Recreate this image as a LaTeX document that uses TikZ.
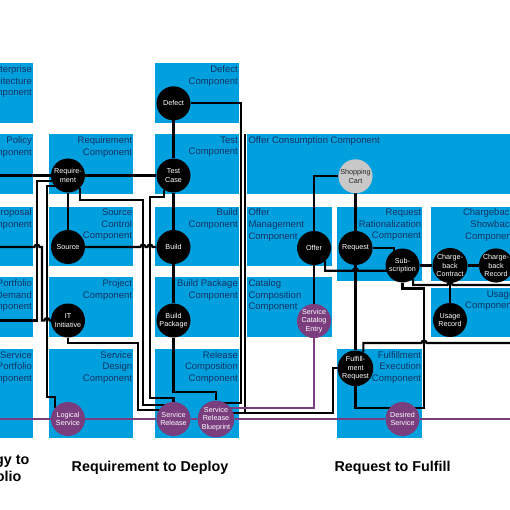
\documentclass[tikz,border=0pt]{standalone}
\usepackage{fontspec}
\setmainfont{Liberation Sans}
\usepackage{tikz}
\usepackage{xcolor}
\definecolor{compBlue}{RGB}{0,160,222}
\definecolor{compNavy}{RGB}{18,52,100}
\definecolor{servicePurple}{RGB}{122,62,126}
\definecolor{cartGray}{RGB}{200,200,200}
\pgfdeclarelayer{boxes}
\pgfdeclarelayer{links}
\pgfsetlayers{boxes,links,main}
\tikzstyle{component}=[rectangle, fill=compBlue, inner sep=0pt, outer sep=0pt, minimum width=84pt, minimum height=59.5pt, anchor=north west]
\tikzstyle{componentText}=[font=\fontsize{9.5}{11.7}\selectfont, text=compNavy, inner xsep=1pt, inner ysep=2pt]
\tikzstyle{dataObject}=[circle, fill=black, text=white, minimum size=34pt, inner sep=0pt, align=center, font=\fontsize{7.2}{8.4}\selectfont]
\tikzstyle{serviceObject}=[dataObject, fill=servicePurple]
\tikzstyle{dataFlow}=[line width=2.1pt]
\tikzstyle{serviceFlow}=[line width=2.5pt, draw=servicePurple]
\tikzstyle{streamTitle}=[font=\fontsize{14.3}{16.7}\selectfont\bfseries, align=center, anchor=base]

\begin{document}
\begin{tikzpicture}[x=1pt, y=-1pt]
  \useasboundingbox (0,0) rectangle (510,510);

  % Components
  \begin{pgfonlayer}{boxes}
  \node (eacomp) at (-51,63.3) [component] {};
  \node (eacomptext) at (eacomp.north east) [componentText, anchor=north east, align=right] {Enterprise\\Architecture\\Component};
  \node (policycomp) at (-51,134.3) [component] {};
  \node (policycomptext) at (policycomp.north east) [componentText, anchor=north east, align=right] {Policy\\Component};
  \node (proposalcomp) at (-51,206.7) [component] {};
  \node (proposalcomptext) at (proposalcomp.north east) [componentText, anchor=north east, align=right] {Proposal\\Component};
  \node (portfoliocomp) at (-51,277.3) [component] {};
  \node (portfoliocomptext) at (portfoliocomp.north east) [componentText, anchor=north east, align=right] {Portfolio\\Demand\\Component};
  \node (svcportfoliocomp) at (-51,349) [component, minimum height=89.3pt] {};
  \node (svcportfoliocomptext) at (svcportfoliocomp.north east) [componentText, anchor=north east, align=right] {Service\\Portfolio\\Component};

  \node (reqcomp) at (49.3,134.3) [component] {};
  \node (reqcomptext) at (reqcomp.north east) [componentText, anchor=north east, align=right] {Requirement\\Component};
  \node (sourcecomp) at (49.3,206.7) [component] {};
  \node (sourcecomptext) at (sourcecomp.north east) [componentText, anchor=north east, align=right] {Source\\Control\\Component};
  \node (projectcomp) at (49.3,277.3) [component] {};
  \node (projectcomptext) at (projectcomp.north east) [componentText, anchor=north east, align=right] {Project\\Component};
  \node (designcomp) at (49.3,349) [component, minimum height=89.3pt] {};
  \node (designcomptext) at (designcomp.north east) [componentText, anchor=north east, align=right] {Service\\Design\\Component};

  \node (defectcomp) at (155,63.3) [component] {};
  \node (defectcomptext) at (defectcomp.north east) [componentText, anchor=north east, align=right] {Defect\\Component};
  \node (testcomp) at (155,134.3) [component] {};
  \node (testcomptext) at (testcomp.north east) [componentText, anchor=north east, align=right] {Test\\Component};
  \node (buildcomp) at (155,206.7) [component] {};
  \node (buildcomptext) at (buildcomp.north east) [componentText, anchor=north east, align=right] {Build\\Component};
  \node (buildpkgcomp) at (155,277.3) [component] {};
  \node (buildpkgcomptext) at (buildpkgcomp.north east) [componentText, anchor=north east, align=right] {Build Package\\Component};
  \node (releasecomp) at (155,349) [component, minimum height=89.3pt] {};
  \node (releasecomptext) at (releasecomp.north east) [componentText, anchor=north east, align=right] {Release\\Composition\\Component};

  \node (offercons) at (247.3,134.3) [component, minimum width=300pt] {};
  \node (offerconstext) at (offercons.north west) [componentText, anchor=north west, align=left] {Offer Consumption Component};
  \node (offermgmt) at (247.3,206.7) [component, minimum width=85pt] {};
  \node (offermgmttext) at (offermgmt.north west) [componentText, anchor=north west, align=left] {Offer\\Management\\Component};
  \node (catcomp) at (247.3,277.3) [component, minimum width=85pt] {};
  \node (catcomptext) at (catcomp.north west) [componentText, anchor=north west, align=left] {Catalog\\Composition\\Component};
  \node (reqratcomp) at (337.3,206.7) [component, minimum width=85pt, minimum height=74.3pt] {};
  \node (reqratcomptext) at (reqratcomp.north east) [componentText, anchor=north east, align=right] {Request\\Rationalization\\Component};
  \node (chargecomp) at (431,206.7) [component, minimum width=84.5pt, minimum height=74.3pt] {};
  \node (chargecomptext) at (chargecomp.north east) [componentText, anchor=north east, align=right] {Chargeback\\Showback\\Component};
  \node (usagecomp) at (431,288.3) [component, minimum width=84.5pt, minimum height=49pt] {};
  \node (usagecomptext) at (usagecomp.north east) [componentText, anchor=north east, align=right] {Usage\\Component};
  \node (fulfilcomp) at (337.3,349) [component, minimum width=85pt, minimum height=88.7pt] {};
  \node (fulfilcomptext) at (fulfilcomp.north east) [componentText, anchor=north east, align=right] {Fulfillment\\Execution\\Component};
  \end{pgfonlayer}

  % Data objects
  \node (defect) at (173.5,103.3) [dataObject] {Defect};
  \node (req) at (68,175.5) [dataObject] {Require-\\ment};
  \node (testcase) at (173.5,175.5) [dataObject] {Test\\Case};
  \node (source) at (68,247) [dataObject] {Source};
  \node (build) at (173.5,247) [dataObject] {Build};
  \node (itinit) at (68,320.5) [dataObject] {IT\\Initiative};
  \node (buildpkg) at (173.5,320.5) [dataObject] {Build\\Package};
  \node (logsvc) at (68,419) [serviceObject] {Logical\\Service};
  \node (svcrelease) at (173.5,419) [serviceObject] {Service\\Release};
  \node (blueprint) at (216,419) [serviceObject] {Service\\Release\\Blueprint};

  \node (cart) at (355.5,176.3) [dataObject, fill=cartGray, text=black!85] {Shopping\\Cart};
  \node (offer) at (314,248) [dataObject] {Offer};
  \node (request) at (355.5,248) [dataObject] {Request};
  \node (subscr) at (402.5,265.5) [dataObject] {Sub-\\scription};
  \node (chargecontract) at (450,265.5) [dataObject] {Charge-\\back\\Contract};
  \node (chargerecord) at (496,265.5) [dataObject] {Charge-\\back\\Record};
  \node (usagerec) at (450,320) [dataObject] {Usage\\Record};
  \node (catentry) at (314,321) [serviceObject] {Service\\Catalog\\Entry};
  \node (fulreq) at (355.5,368.3) [dataObject] {Fulfill-\\ment\\Request};
  \node (desiredsvc) at (402.5,419) [serviceObject] {Desired\\Service};

  \coordinate (policyin) at (-10,175.5);
  \coordinate (proposalin) at (-10,247);
  \coordinate (portfolioin) at (-10,320.5);
  \coordinate (strategyin) at (-10,419);
  \coordinate (detectin) at (520,419);
  \coordinate (detectsub) at (520,285);
  \coordinate (detectful) at (520,343);

  % Value stream titles
  \node (s2ptitle) at (-8,463.3) [streamTitle, anchor=north, yshift=12pt] {Strategy to\\Portfolio};
  \node (r2dtitle) at (150,471.7) [streamTitle] {Requirement to Deploy};
  \node (r2ftitle) at (392.5,471.7) [streamTitle] {Request to Fulfill};

  % Links
  \begin{pgfonlayer}{links}
  \draw[dataFlow] (policyin) -- (req) -- (testcase);
  \draw[dataFlow] (defect) -- (testcase) -- (build) -- (buildpkg);
  \draw[dataFlow] (req) -- (source);
  \draw[dataFlow] (source) -- (140.5,247) arc (180:360:2.5) -- (147.5,247) arc (180:360:2.5) -- (build);
  \draw[dataFlow] (proposalin) -- (34.5,247) arc (180:360:2.5) -- (42,247) -- (42,320.5) -- (44.5,320.5) arc (180:360:2.5) -- (itinit);
  \draw[dataFlow] (portfolioin) -| (37,181) -- (req |- 0,181);
  \draw[dataFlow] (req |- 0,186) -| (47,397) -| (logsvc.140);
  \draw[dataFlow] (req.315) |- (143,200) -- (143,405) -- (svcrelease |- 0,405);
  \draw[dataFlow] (testcase.235) |- (150,197) -- (150,398) -| (svcrelease.north);
  \draw[dataFlow] (itinit.south) |- (138,343) -- (138,410) -- (svcrelease |- 0,410);
  \draw[dataFlow] (buildpkg.south) |- (216,392) -- (blueprint.north);
  \draw[dataFlow] (defect.east) -| (241,403) -- (blueprint |- 0,403);
  \draw[dataFlow] (offercons.north west -| 245,0) |- (blueprint |- 0,413);
  \draw[dataFlow] (fulreq.west) -| (333,413) -- (blueprint |- 0,413);

  \draw[dataFlow] (cart.west) -| (offer);
  \draw[dataFlow] (cart) -- (request);
  \draw[dataFlow] (offer) -- (catentry);
  \draw[dataFlow] (offer.-50) |- (353,270.7) arc (180:360:2.5) -- (subscr |- 0,270.7);
  \draw[dataFlow] (request.east) -| (subscr.120);
  \draw[dataFlow] (subscr) -- (chargecontract) -- (chargerecord);
  \draw[dataFlow] (usagerec) -- (chargecontract);
  \draw[dataFlow] (subscr.-52) |- (447.5,285) arc (180:360:2.5) -- (detectsub);
  \draw[dataFlow] (subscr.south) |- (424,288.5) -- (424,408) -| (fulreq.south);
  \draw[dataFlow] (request) -- (fulreq);
  \draw[dataFlow] (fulreq.64) |- (421.5,343) arc (180:360:2.5) -- (detectful);

  \draw[serviceFlow] (strategyin) -- (logsvc) -- (svcrelease) -- (blueprint) -- (desiredsvc) -- (detectin);
  \draw[serviceFlow] (catentry) |- (blueprint |- 0,408);
  \end{pgfonlayer}

\end{tikzpicture}
\end{document}
